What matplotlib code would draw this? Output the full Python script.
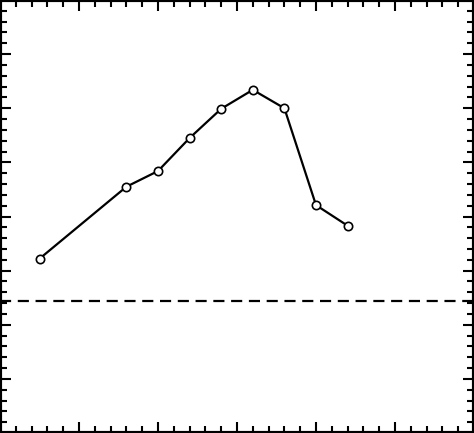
import matplotlib
matplotlib.use("Agg")
import matplotlib.pyplot as plt
from matplotlib.ticker import MultipleLocator

# Data
x_vals = [0.5, 1.6, 2.0, 2.4, 2.8, 3.2, 3.6, 4.0, 4.4]
y_vals = [3.22, 4.55, 4.84, 5.45, 5.99, 6.34, 6.0, 4.21, 3.83]
ref_level = 2.44

fig = plt.figure(figsize=(4.74, 4.33), dpi=100)
ax = fig.add_axes([0, 0, 1, 1])
ax.plot(x_vals, y_vals, color="black", lw=1.6, marker="o", ms=6,
        mfc="white", mec="black", mew=1.2)
ax.axhline(ref_level, color="black", lw=1.6, ls=(0, (5, 3)))
ax.set_xlim(0, 6)
ax.set_ylim(0, 8)
ax.xaxis.set_major_locator(MultipleLocator(1))
ax.xaxis.set_minor_locator(MultipleLocator(0.2))
ax.yaxis.set_major_locator(MultipleLocator(1))
ax.yaxis.set_minor_locator(MultipleLocator(0.2))
ax.tick_params(which="both", direction="in", top=True, right=True,
               labelbottom=False, labelleft=False, width=1.5)
ax.tick_params(which="major", length=8)
ax.tick_params(which="minor", length=5)
for s in ax.spines.values():
    s.set_linewidth(3)
fig.savefig("out.png", dpi=100)
